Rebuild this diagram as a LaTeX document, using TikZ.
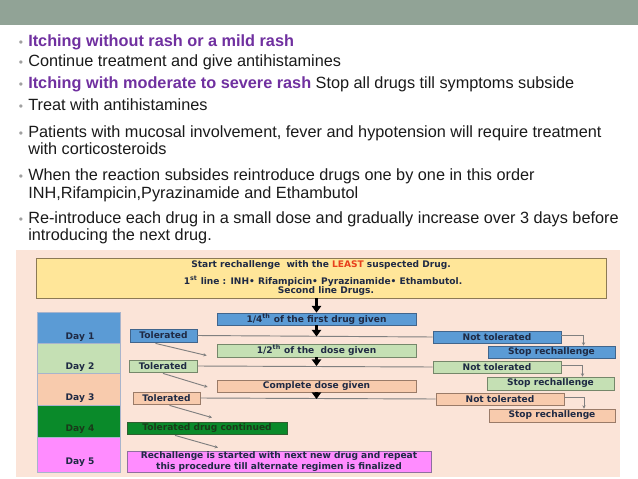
\documentclass[tikz,border=0pt]{standalone}
\usepackage{fontspec}
\setmainfont{Liberation Sans}
\newfontfamily\flowfont{DejaVu Sans}
\usetikzlibrary{arrows.meta,calc}
\definecolor{hdr}{HTML}{91A396}
\definecolor{bg}{HTML}{FBE4D8}
\definecolor{purp}{HTML}{7030A0}
\definecolor{txt}{HTML}{1A1A1A}
\definecolor{bulgray}{HTML}{A0A0A0}
\definecolor{navy}{HTML}{1F2A44}
\definecolor{leastred}{HTML}{E8401C}
\definecolor{yellowF}{HTML}{FFE699}
\definecolor{yellowD}{HTML}{8C7A55}
\definecolor{blueF}{HTML}{5B9BD5}
\definecolor{blueD}{HTML}{41658C}
\definecolor{greenF}{HTML}{C5E0B4}
\definecolor{greenD}{HTML}{75876A}
\definecolor{peachF}{HTML}{F8CBAD}
\definecolor{peachD}{HTML}{9A7B68}
\definecolor{dkgreenF}{HTML}{0A8A2A}
\definecolor{dkgreenD}{HTML}{2F5F2F}
\definecolor{pinkF}{HTML}{FF8CFF}
\definecolor{pinkD}{HTML}{8F6F9F}
\definecolor{cellD}{HTML}{A8B4CC}
\definecolor{dktext}{HTML}{1A3A1A}
\definecolor{conn}{HTML}{808080}
\begin{document}
\begin{tikzpicture}[x=0.75pt,y=-0.75pt,
  bul/.style={anchor=base west,inner sep=0pt,font=\fontsize{12.2}{14}\selectfont,text=txt},
  dot/.style={anchor=base,inner sep=0pt,font=\fontsize{9}{10}\selectfont,text=bulgray},
  ff/.style={font=\flowfont\bfseries\fontsize{6.8}{7.9}\selectfont},
  sz/.style 2 args={minimum width=0.75pt*#1,minimum height=0.75pt*#2},
  flowbox/.style={fill=#1F,draw=#1D,line width=0.6pt,inner sep=0pt,ff,text=navy,align=center},
  daycell/.style={fill=#1F,draw=cellD,line width=0.4pt,inner sep=0pt},
  daylab/.style={inner sep=0pt,ff,text=navy},
  ytext/.style={inner sep=0pt,ff,text=navy},
  downarrow/.style={line width=1.6pt,-{Triangle[width=7pt,length=5pt]}},
  thin/.style={draw=conn,line width=0.7pt},
  tip/.style={thin,-{Stealth[length=2.5pt,width=2.5pt]}}]
\useasboundingbox (0,0) rectangle (638,478);
\fill[white] (0,0) rectangle (638,478);
\fill[hdr] (0,0) rectangle (638,25);
% bullets
\node[dot] (b1) at (21,46) {•};
\node[bul] (l1) at (28,46) {\bfseries\color{purp}Itching without rash or a mild rash};
\node[dot] (b2) at (21,67) {•};
\node[bul] (l2) at (28,67) {Continue treatment and give antihistamines};
\node[dot] (b3) at (21,89) {•};
\node[bul] (l3) at (28,89) {{\bfseries\color{purp}Itching with moderate to severe rash} Stop all drugs till symptoms subside};
\node[dot] (b4) at (21,110) {•};
\node[bul] (l4) at (28,110) {Treat with antihistamines};
\node[dot] (b5) at (21,137) {•};
\node[bul] (l5) at (28,137) {Patients with mucosal involvement, fever and hypotension will require treatment};
\node[bul] (l5b) at (28,154) {with corticosteroids};
\node[dot] (b6) at (21,180) {•};
\node[bul] (l6) at (28,180) {When the reaction subsides reintroduce drugs one by one in this order};
\node[bul] (l6b) at (28,198) {INH,Rifampicin,Pyrazinamide and Ethambutol};
\node[dot] (b7) at (21,223) {•};
\node[bul] (l7) at (28,223) {Re-introduce each drug in a small dose and gradually increase over 3 days before};
\node[bul] (l7b) at (28,240) {introducing the next drug.};
% flowchart background
\fill[bg] (16,250) rectangle (620,477);
\node[flowbox=yellow, sz={570}{40}] (ybox) at (321,278) {};
\node[ytext] (y1) at (321,265) {Start rechallenge\ \ with the {\color{leastred}LEAST} suspected Drug.};
\node[ytext] (y2) at (323,281) {1\textsuperscript{st} line : INH• Rifampicin• Pyrazinamide• Ethambutol.};
\node[ytext] (y3) at (326,291) {Second line Drugs.};
% day column
\node[daycell=blue, sz={83}{31}] (d1) at (78.5,327.5) {};
\node[daycell=green, sz={83}{30}] (d2) at (78.5,358) {};
\node[daycell=peach, sz={83}{32}] (d3) at (78.5,389) {};
\node[daycell=dkgreen, sz={83}{32}] (d4) at (78.5,421) {};
\node[daycell=pink, sz={83}{35}] (d5) at (78.5,454.5) {};
\node[daylab] (dl1) at (80,337) {Day 1};
\node[daylab] (dl2) at (80,367) {Day 2};
\node[daylab] (dl3) at (80,398) {Day 3};
\node[daylab,text=dktext] (dl4) at (80,429) {Day 4};
\node[daylab] (dl5) at (80,462) {Day 5};
% centre boxes
\node[flowbox=blue, sz={199}{12}] (q1) at (316.5,319) {1/4\textsuperscript{th} of the first drug given};
\node[flowbox=green, sz={199}{13}] (q2) at (316.5,350.5) {1/2\textsuperscript{th} of the\ \ dose given};
\node[flowbox=peach, sz={199}{12}] (q3) at (316.5,386) {Complete dose given};
% tolerated boxes
\node[flowbox=blue, sz={67}{13}] (t1) at (163.5,335.5) {Tolerated};
\node[flowbox=green, sz={68}{12}] (t2) at (163,366) {Tolerated};
\node[flowbox=peach, sz={67}{12}] (t3) at (166.5,398) {Tolerated};
\node[flowbox=dkgreen, text=dktext, sz={160}{12}] (t4) at (207,428) {Tolerated drug continued};
\node[flowbox=pink, sz={304}{21}] (t5) at (279,461.5) {Rechallenge is started with next new drug and repeat\\this procedure till alternate regimen is finalized};
% not tolerated / stop
\node[flowbox=blue, sz={128}{12}] (n1) at (497,337) {Not tolerated};
\node[flowbox=blue, sz={127}{12}] (s1) at (551.5,352) {Stop rechallenge};
\node[flowbox=green, sz={128}{12}] (n2) at (497,367) {Not tolerated};
\node[flowbox=green, sz={127}{13}] (s2) at (550.5,383.5) {Stop rechallenge};
\node[flowbox=peach, sz={128}{12}] (n3) at (500,399) {Not tolerated};
\node[flowbox=peach, sz={126}{13}] (s3) at (552,415.5) {Stop rechallenge};
% horizontal lines
\draw[thin] (t1.east) -- (n1.west);
\draw[thin] (t2.east) -- (n2.west);
\draw[thin] (t3.east) -- (n3.west);
% down arrows
\draw[downarrow] (q1.north |- ybox.south) -- (q1.north);
\draw[downarrow] (q1.south) -- ($(q1.south |- t1.east)+(0,1)$);
\draw[downarrow] (q2.south) -- ($(q2.south |- t2.east)+(0,0)$);
\draw[downarrow] (q3.south) -- ($(q3.south |- t3.east)+(0,1)$);
% not tolerated -> stop
\draw[tip] ($(n1.east)+(0,-2)$) -| ($(s1.north)+(32,0)$);
\draw[tip] ($(n2.east)+(0,-2)$) -| ($(s2.north)+(32,0)$);
\draw[tip] ($(n3.east)+(0,-2)$) -| ($(s3.north)+(32,0)$);
% diagonals
\draw[tip] ($(t1.south)+(-8,1)$) -- ($(q2.west)+(-10,5)$);
\draw[tip] ($(t2.south)+(0,1)$) -- ($(q3.west)+(-9,1)$);
\draw[tip] ($(t3.south)+(3,1)$) -- ($(t4.north)+(5,-4)$);
\draw[tip] ($(t4.south)+(-32,1)$) -- ($(t5.north)+(-61,-3)$);
\end{tikzpicture}
\end{document}
